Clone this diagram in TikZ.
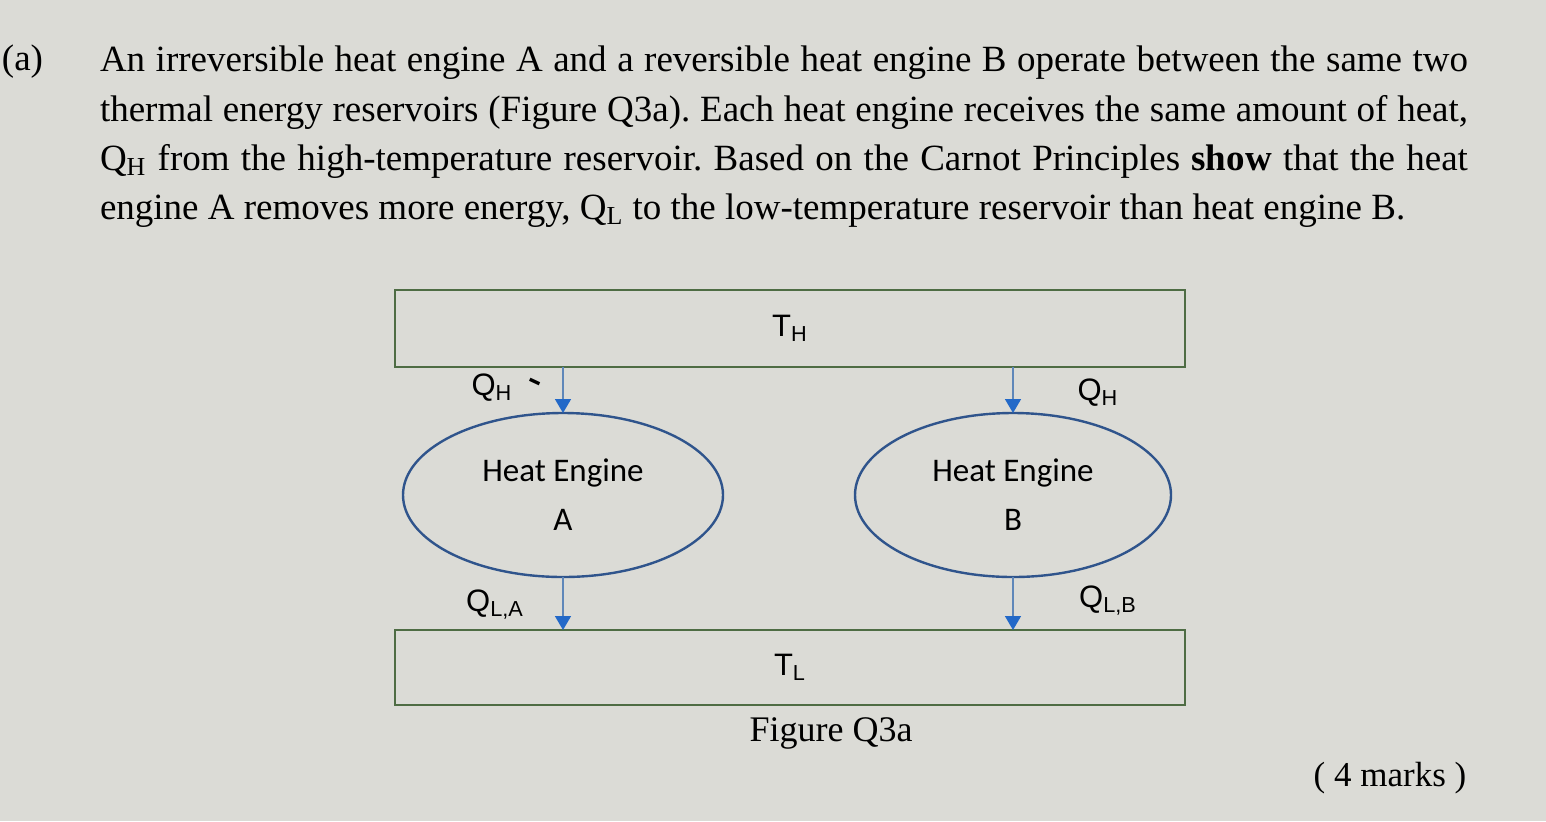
\documentclass[tikz,border=0pt]{standalone}
\usepackage{fontspec}
\setmainfont{Liberation Serif}
\newfontfamily\labelfont{Liberation Sans}
\newfontfamily\enginefont{Carlito}
\usepackage{tikz}
\usetikzlibrary{shapes,fit,calc,positioning,arrows.meta}
\definecolor{paper}{RGB}{219,219,214}
\definecolor{reservoirgreen}{RGB}{78,108,68}
\definecolor{engineline}{RGB}{47,84,140}
\definecolor{flowline}{RGB}{95,135,185}
\definecolor{flowhead}{RGB}{35,105,200}
\frenchspacing

\begin{document}
\begin{tikzpicture}[x=0.5pt, y=-0.5pt,
      every node/.append style={inner sep=0pt, outer sep=0pt},
      reservoir/.style={draw=reservoirgreen, line width=1pt, rectangle, minimum width=395pt,
        font=\labelfont\fontsize{15.5}{18}\selectfont},
      engine/.style={draw=engineline, line width=1.2pt, ellipse, minimum height=82pt, align=center,
        font=\enginefont\fontsize{16.5}{24.5}\selectfont},
      heat/.style={draw=flowline, line width=0.8pt, -{Triangle[width=8pt,length=7pt,color=flowhead]}},
      qlabel/.style={font=\labelfont\fontsize{15.5}{18}\selectfont},
      bodyline/.style={anchor=base west, font=\fontsize{18.5}{22}\selectfont}]
    \fill[paper] (0,0) rectangle (1546,821);
    \useasboundingbox (0,0) rectangle (1546,821);

    \node (tag) [bodyline] at (2,70) {(a)};
    \node (line1) [bodyline] at (100,71) {\makebox[684pt][s]{An irreversible heat engine A and a reversible heat engine B operate between the same two}};
    \node (line2) [bodyline] at (100,121) {\makebox[684pt][s]{thermal energy reservoirs (Figure Q3a). Each heat engine receives the same amount of heat,}};
    \node (line3) [bodyline] at (100,170) {\makebox[684pt][s]{Q\textsubscript{H} from the high-temperature reservoir. Based on the Carnot Principles \textbf{show} that the heat}};
    \node (line4) [bodyline] at (100,219) {engine A removes more energy, Q\textsubscript{L} to the low-temperature reservoir than heat engine B.};

    \node (hot) [reservoir, minimum height=38.5pt] at (790,328.5) {T\textsubscript{H}};
    \node (cold) [reservoir, minimum height=37.5pt] at (790,667.5) {T\textsubscript{L}};
    \node (engA) [engine, minimum width=160pt] at (563,495) {Heat Engine\\A};
    \node (engB) [engine, minimum width=158pt] at (1013,495) {Heat Engine\\B};

    \draw[heat] (hot.south -| engA.north) -- (engA.north);
    \draw[heat] (hot.south -| engB.north) -- (engB.north);
    \draw[heat] (engA.south) -- (cold.north -| engA.south);
    \draw[heat] (engB.south) -- (cold.north -| engB.south);

    \node (qHA) [qlabel] at (492,388) {Q\textsubscript{H}};
    \node (tick) [font=\labelfont\fontsize{22}{22}\selectfont, rotate=-25] at (533,387) {-};
    \node (qHB) [qlabel] at (1098,393) {Q\textsubscript{H}};
    \node (qLA) [qlabel] at (495,605) {Q\textsubscript{L,A}};
    \node (qLB) [qlabel] at (1108,601) {Q\textsubscript{L,B}};

    \node (caption) [font=\fontsize{18}{20}\selectfont] at (831,733) {Figure Q3a};
    \node (marks) [font=\fontsize{17.5}{20}\selectfont] at (1390,778) {( 4 marks )};
  \end{tikzpicture}
\end{document}
